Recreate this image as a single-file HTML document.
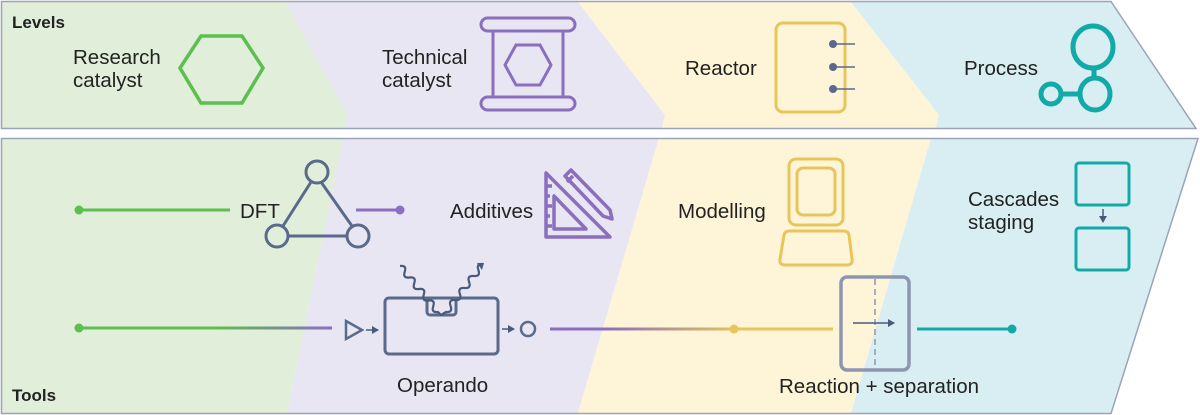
<!DOCTYPE html>
<html><head><meta charset="utf-8"><style>
html,body{margin:0;padding:0;background:#fff;}
svg{display:block;}
text{font-family:"Liberation Sans",Arial,sans-serif;fill:#222;}
</style></head><body>
<svg width="1200" height="415" viewBox="0 0 1200 415" xmlns="http://www.w3.org/2000/svg">
<defs>
<linearGradient id="g1" x1="79" y1="0" x2="330" y2="0" gradientUnits="userSpaceOnUse">
<stop offset="0.55" stop-color="#5cbf4f"/><stop offset="1" stop-color="#8a6fbf"/></linearGradient>
<linearGradient id="g2" x1="550" y1="0" x2="740" y2="0" gradientUnits="userSpaceOnUse">
<stop offset="0" stop-color="#8a6fbf"/><stop offset="0.3" stop-color="#8a6fbf"/><stop offset="1" stop-color="#e8c55a"/></linearGradient>
<marker id="ar" markerWidth="8" markerHeight="8" refX="6" refY="4" orient="auto" markerUnits="userSpaceOnUse"><path d="M0,0 L7,4 L0,8 Z" fill="#4a5a7a"/></marker>
</defs>
<polygon points="2,2 285,2 348,115 345,128 2,128" fill="#e1eed9"/>
<polygon points="285,2 578,2 665,115 662,128 345,128 348,115" fill="#e8e6f3"/>
<polygon points="578,2 851,2 939,115 936,128 662,128 665,115" fill="#fef5d8"/>
<polygon points="851,2 1111,2 1196,128 936,128 939,115" fill="#d9eef3"/>
<polygon points="1.5,1.5 1111,1.5 1196,128.5 1.5,128.5" fill="none" stroke="#9aa3b8" stroke-width="1.5"/>
<polygon points="2,138 343,138 287,413 2,413" fill="#e1eed9"/>
<polygon points="343,138 659,138 578,413 287,413" fill="#e8e6f3"/>
<polygon points="659,138 931,138 851,413 578,413" fill="#fef5d8"/>
<polygon points="931,138 1198,138 1111,413 851,413" fill="#d9eef3"/>
<polygon points="1.5,138.5 1198,138.5 1111,413.5 1.5,413.5" fill="none" stroke="#9aa3b8" stroke-width="1.5"/>

<text x="12" y="28" font-size="17" font-weight="bold">Levels</text>
<text x="12" y="401" font-size="17" font-weight="bold">Tools</text>

<text x="73" y="64" font-size="20.5">Research</text>
<text x="73" y="87" font-size="20.5">catalyst</text>
<polygon points="180,68 201,36 242,36 263,68 242,103 201,103" fill="none" stroke="#5cbf4f" stroke-width="3.5"/>

<text x="382" y="64" font-size="20.5">Technical</text>
<text x="382" y="87" font-size="20.5">catalyst</text>
<g fill="none" stroke="#8a6fbf" stroke-width="3">
<rect x="481" y="18" width="94" height="13" rx="6.5"/>
<rect x="481" y="97" width="94" height="13" rx="6.5"/>
<line x1="493" y1="31" x2="493" y2="97"/><line x1="563" y1="31" x2="563" y2="97"/>
<polygon points="505,65 516,45 540,45 551,65 540,85 516,85"/>
</g>

<text x="685" y="75" font-size="20.5">Reactor</text>
<rect x="776" y="23" width="69" height="89" rx="7" fill="none" stroke="#e8c55a" stroke-width="3"/>
<g stroke="#5a6a8a" stroke-width="1.5"><line x1="833" y1="44" x2="855" y2="44"/><line x1="833" y1="67" x2="855" y2="67"/><line x1="833" y1="89" x2="855" y2="89"/></g>
<g fill="#5a6a8a"><circle cx="833" cy="44" r="4"/><circle cx="833" cy="67" r="4"/><circle cx="833" cy="89" r="4"/></g>

<text x="964" y="75" font-size="20.5">Process</text>
<g fill="none" stroke="#12aaa8" stroke-width="5">
<line x1="1094" y1="68" x2="1094" y2="78"/><line x1="1061" y1="94" x2="1079" y2="94"/>
<ellipse cx="1093" cy="47" rx="20" ry="21"/>
<ellipse cx="1095" cy="94" rx="15" ry="16"/>
<circle cx="1051" cy="94" r="10"/>
</g>

<line x1="79" y1="210" x2="230" y2="210" stroke="#5cbf4f" stroke-width="3"/>
<circle cx="79" cy="210" r="4.5" fill="#5cbf4f"/>
<text x="240" y="218" font-size="20.5">DFT</text>
<g fill="none" stroke="#5a6a8a" stroke-width="3">
<line x1="311" y1="182" x2="283" y2="226"/><line x1="321" y1="182" x2="352" y2="226"/><line x1="288" y1="236" x2="348" y2="236"/>
<circle cx="317" cy="172" r="11"/><circle cx="277" cy="236" r="11"/><circle cx="358" cy="236" r="11"/>
</g>
<line x1="356" y1="210" x2="400" y2="210" stroke="#8a6fbf" stroke-width="3"/>
<circle cx="400" cy="210" r="4.5" fill="#8a6fbf"/>
<text x="450" y="218" font-size="20.5">Additives</text>
<g fill="none" stroke="#8a6fbf" stroke-width="3.5" stroke-linejoin="round">
<polygon points="546,173 546,237 610,237"/>
<polygon points="554,196 554,229 586,229"/>
<path d="M546,186 h6 M546,196 h4 M546,206 h6 M546,216 h4 M546,226 h6"/>
<path d="M565,176 L571,170 L610,210 L612,219 L603,216 Z M567,182 L573,176"/>
</g>

<text x="678" y="218" font-size="20.5">Modelling</text>
<g fill="none" stroke="#e8c55a" stroke-width="3">
<rect x="789" y="159" width="54" height="66" rx="7"/>
<rect x="797" y="168" width="38" height="47" rx="6"/>
<path d="M789,231 H844 Q848,231 849,235 L852,259 Q853,265 847,265 H785 Q779,265 780,259 L784,235 Q785,231 789,231 Z"/>
</g>

<text x="968" y="206" font-size="20.5">Cascades</text>
<text x="968" y="229" font-size="20.5">staging</text>
<g fill="none" stroke="#12aaa8" stroke-width="3">
<rect x="1076" y="163" width="53" height="42" rx="3"/>
<rect x="1076" y="228" width="53" height="42" rx="3"/>
</g>
<line x1="1103" y1="209" x2="1103" y2="222" stroke="#4a5a7a" stroke-width="1.5" marker-end="url(#ar)"/>

<line x1="79" y1="328" x2="332" y2="328" stroke="url(#g1)" stroke-width="3"/>
<circle cx="79" cy="328" r="4.5" fill="#5cbf4f"/>
<polygon points="346,321 362,330 346,339" fill="none" stroke="#5a6a8a" stroke-width="2.5"/>
<line x1="366" y1="330" x2="378" y2="330" stroke="#4a5a7a" stroke-width="1.5" marker-end="url(#ar)"/>
<rect x="385" y="298" width="113" height="56" rx="4" fill="none" stroke="#5a6a8a" stroke-width="3"/>
<rect x="427" y="298" width="29" height="17" rx="3" fill="none" stroke="#5a6a8a" stroke-width="3"/>
<path d="M400,266 Q407,265.1 404.75,271.75 Q402.5,278.4 409.5,277.5 Q416.5,276.6 414.25,283.25 Q412,290 419,289 Q426,288.1 423.75,294.75 Q421.5,301.4 428.5,300.5 Q435.5,299.6 433.25,306.25 Q431,312.9 438,312 L441,315 L446,312 Q453,312.7 450.6,306 Q448.2,299.3 455.25,300 Q462.3,300.7 459.9,294 Q457.5,287.3 464.5,288 Q471.5,288.7 469.1,282 Q466.7,275.3 473.75,276 Q480.7,276.7 478.4,270 Q476,263.3 483,264" fill="none" stroke="#4a5a7a" stroke-width="2.2" stroke-linejoin="round"/>
<path d="M477,263 L484,263 L482,270 Z" fill="#4a5a7a"/>
<line x1="502" y1="329" x2="514" y2="329" stroke="#4a5a7a" stroke-width="1.5" marker-end="url(#ar)"/>
<circle cx="528" cy="329" r="7" fill="none" stroke="#5a6a8a" stroke-width="2.5"/>
<line x1="550" y1="329" x2="833" y2="329" stroke="url(#g2)" stroke-width="3"/>
<line x1="740" y1="329" x2="833" y2="329" stroke="#e8c55a" stroke-width="3"/>
<circle cx="734" cy="329" r="4.5" fill="#e8c55a"/>
<rect x="841" y="277" width="68" height="93" rx="6" fill="none" stroke="#8d96b0" stroke-width="3.5"/>
<line x1="875" y1="279" x2="875" y2="368" stroke="#8d96b0" stroke-width="1.5" stroke-dasharray="6,4"/>
<line x1="853" y1="323" x2="894" y2="323" stroke="#4a5a7a" stroke-width="1.5" marker-end="url(#ar)"/>
<line x1="917" y1="329" x2="1012" y2="329" stroke="#12aaa8" stroke-width="3"/>
<circle cx="1012" cy="329" r="4.5" fill="#12aaa8"/>

<text x="397" y="392" font-size="20.5">Operando</text>
<text x="779" y="393" font-size="20.5">Reaction + separation</text>
</svg>
</body></html>
